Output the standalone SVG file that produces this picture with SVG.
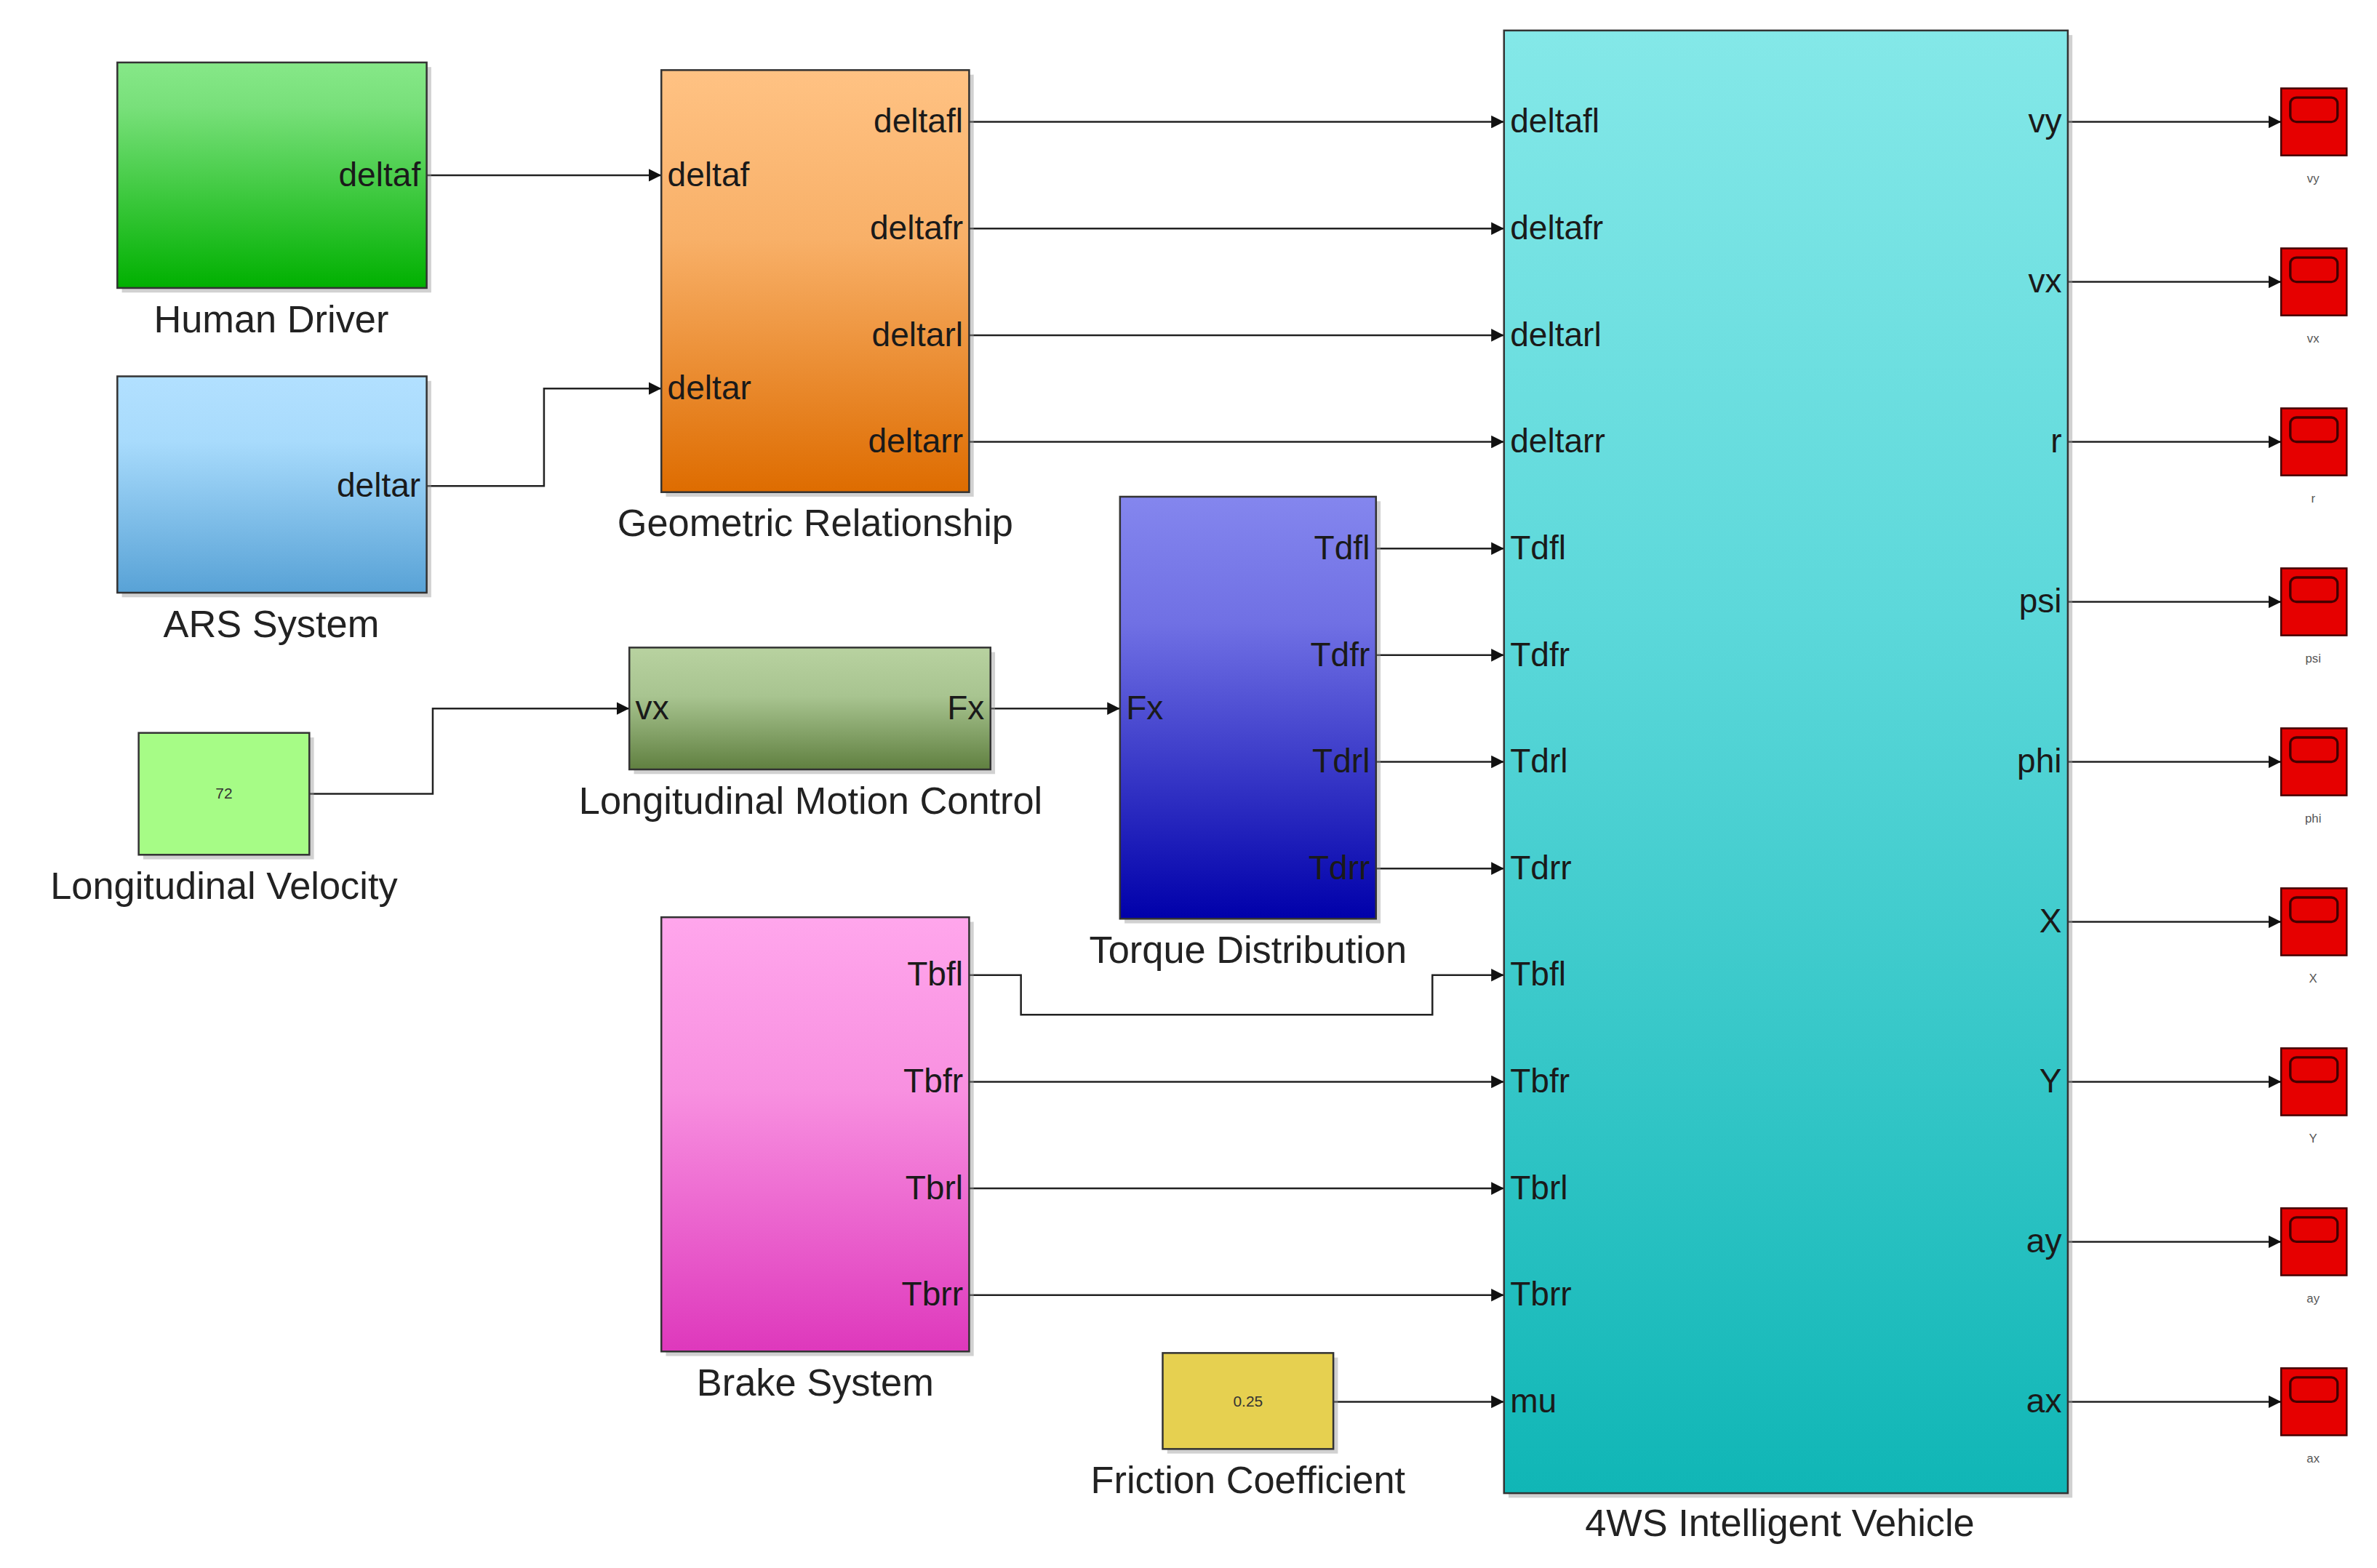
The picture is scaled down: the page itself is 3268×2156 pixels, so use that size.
<svg xmlns="http://www.w3.org/2000/svg" width="3268" height="2156" viewBox="0 0 3268 2156">
<style>
.blk{stroke:#333;stroke-width:1.2}
.sh{fill:#999;opacity:0.45}
.pl{font-family:"Liberation Sans",Arial,sans-serif;font-size:22px;fill:#1a1a1a}
.nm{font-family:"Liberation Sans",Arial,sans-serif;font-size:25px;fill:#222;text-anchor:middle}
.sm{font-family:"Liberation Sans",Arial,sans-serif;font-size:8px;fill:#555;text-anchor:middle}
.r{text-anchor:end}
.w{fill:none;stroke:#222;stroke-width:1.2;marker-end:url(#ah)}
.sc{fill:#e60000;stroke:#400;stroke-width:1.2}
.si{fill:none;stroke:#400;stroke-width:1.6}
</style>
<defs>
<marker id="ah" viewBox="0 0 10 10" refX="10" refY="5" markerWidth="7" markerHeight="7" orient="auto"><path d="M0,0 L10,5 L0,10 z" fill="#111"/></marker>
<linearGradient id="gG" x1="0" y1="0" x2="0" y2="1"><stop offset="0" stop-color="#86e888"/><stop offset="0.2" stop-color="#78e07a"/><stop offset="1" stop-color="#00b000"/></linearGradient>
<linearGradient id="gB" x1="0" y1="0" x2="0" y2="1"><stop offset="0" stop-color="#b2e0ff"/><stop offset="0.3" stop-color="#a8dbfc"/><stop offset="1" stop-color="#58a2d6"/></linearGradient>
<linearGradient id="gO" x1="0" y1="0" x2="0" y2="1"><stop offset="0" stop-color="#ffc283"/><stop offset="0.4" stop-color="#f8b068"/><stop offset="1" stop-color="#de6c00"/></linearGradient>
<linearGradient id="gC" x1="0" y1="0" x2="0" y2="1"><stop offset="0" stop-color="#84e8e8"/><stop offset="0.4" stop-color="#5cd8da"/><stop offset="1" stop-color="#10b6b6"/></linearGradient>
<linearGradient id="gT" x1="0" y1="0" x2="0" y2="1"><stop offset="0" stop-color="#8486ee"/><stop offset="0.3" stop-color="#7070e4"/><stop offset="1" stop-color="#0000aa"/></linearGradient>
<linearGradient id="gL" x1="0" y1="0" x2="0" y2="1"><stop offset="0" stop-color="#b8d2a0"/><stop offset="0.4" stop-color="#a8c490"/><stop offset="1" stop-color="#608040"/></linearGradient>
<linearGradient id="gP" x1="0" y1="0" x2="0" y2="1"><stop offset="0" stop-color="#ffa6ec"/><stop offset="0.4" stop-color="#f890e0"/><stop offset="1" stop-color="#de38bc"/></linearGradient>
</defs>
<rect width="3268" height="2156" fill="#fff"/>
<g transform="scale(2.095)">
<g id="connectors">
<path class="w" d="M280,115 H434"/>
<path class="w" d="M280,319 H357 V255 H434"/>
<path class="w" d="M636,80 H987"/>
<path class="w" d="M636,150 H987"/>
<path class="w" d="M636,220 H987"/>
<path class="w" d="M636,290 H987"/>
<path class="w" d="M203,521 H284 V465 H413"/>
<path class="w" d="M650,465 H735"/>
<path class="w" d="M903,360 H987"/>
<path class="w" d="M903,430 H987"/>
<path class="w" d="M903,500 H987"/>
<path class="w" d="M903,570 H987"/>
<path class="w" d="M636,640 H670 V666 H940 V640 H987"/>
<path class="w" d="M636,710 H987"/>
<path class="w" d="M636,780 H987"/>
<path class="w" d="M636,850 H987"/>
<path class="w" d="M875,920 H987"/>
<path class="w" d="M1357,80 H1497"/>
<path class="w" d="M1357,185 H1497"/>
<path class="w" d="M1357,290 H1497"/>
<path class="w" d="M1357,395 H1497"/>
<path class="w" d="M1357,500 H1497"/>
<path class="w" d="M1357,605 H1497"/>
<path class="w" d="M1357,710 H1497"/>
<path class="w" d="M1357,815 H1497"/>
<path class="w" d="M1357,920 H1497"/>
</g>
<g id="human-driver">
<rect class="sh" x="80" y="44" width="203" height="148"/>
<rect class="blk" x="77" y="41" width="203" height="148" fill="url(#gG)"/>
<text class="pl r" x="276" y="122">deltaf</text>
<text class="nm" x="178" y="218">Human Driver</text>
</g>
<g id="ars-system">
<rect class="sh" x="80" y="250" width="203" height="142"/>
<rect class="blk" x="77" y="247" width="203" height="142" fill="url(#gB)"/>
<text class="pl r" x="276" y="326">deltar</text>
<text class="nm" x="178" y="418">ARS System</text>
</g>
<g id="geometric-relationship">
<rect class="sh" x="437" y="49" width="202" height="277"/>
<rect class="blk" x="434" y="46" width="202" height="277" fill="url(#gO)"/>
<text class="pl" x="438" y="122">deltaf</text>
<text class="pl" x="438" y="262">deltar</text>
<text class="pl r" x="632" y="87">deltafl</text>
<text class="pl r" x="632" y="157">deltafr</text>
<text class="pl r" x="632" y="227">deltarl</text>
<text class="pl r" x="632" y="297">deltarr</text>
<text class="nm" x="535" y="352">Geometric Relationship</text>
</g>
<g id="longitudinal-velocity">
<rect class="sh" x="94" y="484" width="112" height="80"/>
<rect class="blk" x="91" y="481" width="112" height="80" fill="#a6fc86"/>
<text class="sm" x="147" y="524" style="font-size:10px;fill:#333">72</text>
<text class="nm" x="147" y="590">Longitudinal Velocity</text>
</g>
<g id="longitudinal-motion-control">
<rect class="sh" x="416" y="428" width="237" height="80"/>
<rect class="blk" x="413" y="425" width="237" height="80" fill="url(#gL)"/>
<text class="pl" x="417" y="472">vx</text>
<text class="pl r" x="646" y="472">Fx</text>
<text class="nm" x="532" y="534">Longitudinal Motion Control</text>
</g>
<g id="torque-distribution">
<rect class="sh" x="738" y="329" width="168" height="277"/>
<rect class="blk" x="735" y="326" width="168" height="277" fill="url(#gT)"/>
<text class="pl" x="739" y="472">Fx</text>
<text class="pl r" x="899" y="367">Tdfl</text>
<text class="pl r" x="899" y="437">Tdfr</text>
<text class="pl r" x="899" y="507">Tdrl</text>
<text class="pl r" x="899" y="577">Tdrr</text>
<text class="nm" x="819" y="632">Torque Distribution</text>
</g>
<g id="brake-system">
<rect class="sh" x="437" y="605" width="202" height="285"/>
<rect class="blk" x="434" y="602" width="202" height="285" fill="url(#gP)"/>
<text class="pl r" x="632" y="647">Tbfl</text>
<text class="pl r" x="632" y="717">Tbfr</text>
<text class="pl r" x="632" y="787">Tbrl</text>
<text class="pl r" x="632" y="857">Tbrr</text>
<text class="nm" x="535" y="916">Brake System</text>
</g>
<g id="friction-coefficient">
<rect class="sh" x="766" y="891" width="112" height="63"/>
<rect class="blk" x="763" y="888" width="112" height="63" fill="#e6d050"/>
<text class="sm" x="819" y="923" style="font-size:10px;fill:#333">0.25</text>
<text class="nm" x="819" y="980">Friction Coefficient</text>
</g>
<g id="vehicle-4ws">
<rect class="sh" x="990" y="23" width="370" height="960"/>
<rect class="blk" x="987" y="20" width="370" height="960" fill="url(#gC)"/>
<text class="pl" x="991" y="87">deltafl</text>
<text class="pl" x="991" y="157">deltafr</text>
<text class="pl" x="991" y="227">deltarl</text>
<text class="pl" x="991" y="297">deltarr</text>
<text class="pl" x="991" y="367">Tdfl</text>
<text class="pl" x="991" y="437">Tdfr</text>
<text class="pl" x="991" y="507">Tdrl</text>
<text class="pl" x="991" y="577">Tdrr</text>
<text class="pl" x="991" y="647">Tbfl</text>
<text class="pl" x="991" y="717">Tbfr</text>
<text class="pl" x="991" y="787">Tbrl</text>
<text class="pl" x="991" y="857">Tbrr</text>
<text class="pl" x="991" y="927">mu</text>
<text class="pl r" x="1353" y="87">vy</text>
<text class="pl r" x="1353" y="192">vx</text>
<text class="pl r" x="1353" y="297">r</text>
<text class="pl r" x="1353" y="402">psi</text>
<text class="pl r" x="1353" y="507">phi</text>
<text class="pl r" x="1353" y="612">X</text>
<text class="pl r" x="1353" y="717">Y</text>
<text class="pl r" x="1353" y="822">ay</text>
<text class="pl r" x="1353" y="927">ax</text>
<text class="nm" x="1168" y="1008">4WS Intelligent Vehicle</text>
</g>
<g id="scope-vy"><rect class="sc" x="1497" y="58" width="43" height="44"/><rect class="si" x="1503" y="64" width="31" height="16" rx="4"/><text class="sm" x="1518" y="120">vy</text></g>
<g id="scope-vx"><rect class="sc" x="1497" y="163" width="43" height="44"/><rect class="si" x="1503" y="169" width="31" height="16" rx="4"/><text class="sm" x="1518" y="225">vx</text></g>
<g id="scope-r"><rect class="sc" x="1497" y="268" width="43" height="44"/><rect class="si" x="1503" y="274" width="31" height="16" rx="4"/><text class="sm" x="1518" y="330">r</text></g>
<g id="scope-psi"><rect class="sc" x="1497" y="373" width="43" height="44"/><rect class="si" x="1503" y="379" width="31" height="16" rx="4"/><text class="sm" x="1518" y="435">psi</text></g>
<g id="scope-phi"><rect class="sc" x="1497" y="478" width="43" height="44"/><rect class="si" x="1503" y="484" width="31" height="16" rx="4"/><text class="sm" x="1518" y="540">phi</text></g>
<g id="scope-X"><rect class="sc" x="1497" y="583" width="43" height="44"/><rect class="si" x="1503" y="589" width="31" height="16" rx="4"/><text class="sm" x="1518" y="645">X</text></g>
<g id="scope-Y"><rect class="sc" x="1497" y="688" width="43" height="44"/><rect class="si" x="1503" y="694" width="31" height="16" rx="4"/><text class="sm" x="1518" y="750">Y</text></g>
<g id="scope-ay"><rect class="sc" x="1497" y="793" width="43" height="44"/><rect class="si" x="1503" y="799" width="31" height="16" rx="4"/><text class="sm" x="1518" y="855">ay</text></g>
<g id="scope-ax"><rect class="sc" x="1497" y="898" width="43" height="44"/><rect class="si" x="1503" y="904" width="31" height="16" rx="4"/><text class="sm" x="1518" y="960">ax</text></g>
</g>
</svg>
